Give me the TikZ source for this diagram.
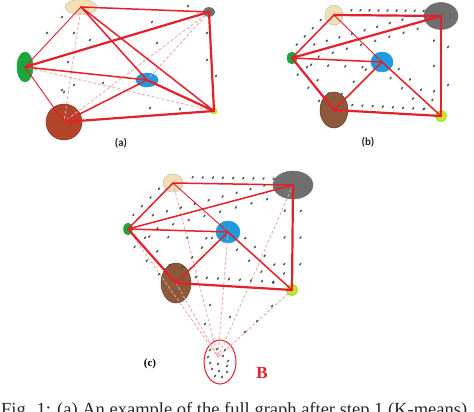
\documentclass[tikz,border=0pt]{standalone}
\usepackage{fontspec}
\setmainfont{Liberation Serif}
\newfontfamily\labfont{Carlito}
\usetikzlibrary{shapes.geometric,calc}
\definecolor{redl}{HTML}{E3202B}
\definecolor{pinkl}{HTML}{EFA3A3}
\definecolor{beigec}{HTML}{F4E0B2}
\definecolor{grayc}{HTML}{6F6F6F}
\definecolor{greenc}{HTML}{1EA43C}
\definecolor{bluec}{HTML}{1E9BDF}
\definecolor{browna}{HTML}{B3452B}
\definecolor{brownb}{HTML}{8C5A3A}
\definecolor{yellowc}{HTML}{D8DF2A}
\tikzset{
  vtx/.style={ellipse, inner sep=0pt, line width=0.5pt},
  thk/.style={draw=redl, line width=2.2pt, line cap=round},
  med/.style={draw=redl, line width=1.5pt, line cap=round},
  thn/.style={draw=redl, line width=0.9pt},
  pdash/.style={draw=pinkl, line width=0.8pt, dash pattern=on 3pt off 2pt},
  dmark/.style={draw=black!70, line width=1.4pt, line cap=round},
  lab/.style={font=\labfont\bfseries\fontsize{11}{13}\selectfont, text=black!85},
}
\newcommand\dm[2]{\draw[dmark] (#1-0.5,#2+0.7) -- (#1+0.5,#2-0.7);}
\newcommand\drow[4]{%
  \foreach \i in {1,...,#4}{%
    \pgfmathsetmacro\dt{0.12+0.76*(\i-0.5)/#4}
    \coordinate (dp) at ($(#1)!\dt!(#2)!#3:(#2)$);
    \draw[dmark] ($(dp)+(-0.5,0.7)$) -- ($(dp)+(0.5,-0.7)$);
  }}
\begin{document}
\begin{tikzpicture}[x=1pt,y=-1pt]
\useasboundingbox (0,0) rectangle (474,412);
\clip (0,0) rectangle (474,412);
\fill[white] (0,0) rectangle (474,412);

% ---------------- panel (a)
\node[vtx, fill=beigec, draw=black!25, minimum width=32pt, minimum height=15pt] (bA) at (81,7) {};
\node[vtx, fill=grayc, draw=grayc, minimum width=12pt, minimum height=9pt] (gyA) at (209,12) {};
\node[vtx, fill=greenc, draw=greenc, minimum width=16pt, minimum height=30pt] (grA) at (25,67) {};
\node[vtx, fill=bluec, draw=bluec, minimum width=22pt, minimum height=14pt] (blA) at (147,80) {};
\node[vtx, fill=browna, draw=browna!70!black, minimum width=36pt, minimum height=36pt] (brA) at (64,122) {};
\node[vtx, fill=yellowc, draw=yellowc!70!green, minimum width=6pt, minimum height=6pt] (yA) at (214,111) {};

\draw[pdash] (bA.center) -- (brA.center);
\draw[pdash] (gyA.center) -- (blA.center);
\draw[pdash] (gyA.center) -- (brA.center);
\draw[pdash] (grA.center) -- (yA.center);
\draw[med] (bA.center) -- (gyA.center);
\draw[thn] (bA.center) -- (grA.center);
\draw[med] (bA.center) -- (blA.center);
\draw[med] (bA.center) -- (yA.center);
\draw[thk] (grA.center) -- (gyA.center);
\draw[thk] (gyA.center) -- (yA.center);
\draw[med] (grA.center) -- (blA.center);
\draw[thn] (grA.center) -- (brA.center);
\draw[med] (blA.center) -- (brA.center);
\draw[thk] (blA.center) -- (yA.center);
\draw[thk] (brA.center) -- (yA.center);

\dm{62}{17}\dm{47}{33}\dm{74}{33}\dm{90}{40}\dm{68}{62}
\dm{188}{6}\dm{152}{22}\dm{207}{33}\dm{157}{43}\dm{207}{60}\dm{216}{76}
\dm{62}{90}\dm{64}{92}\dm{74}{85}\dm{103}{83}\dm{150}{108}\dm{180}{109}

\node[lab] (la) at (121,143) {(a)};

% ---------------- panel (b)
\node[vtx, fill=beigec, draw=black!25, minimum width=18pt, minimum height=20pt] (bB) at (334,15) {};
\node[vtx, fill=grayc, draw=grayc, minimum width=34pt, minimum height=27pt] (gyB) at (441,16) {};
\node[vtx, fill=greenc, draw=greenc, minimum width=10pt, minimum height=12pt] (grB) at (292,58) {};
\node[vtx, fill=bluec, draw=bluec, minimum width=22pt, minimum height=20pt] (blB) at (382,62) {};
\node[vtx, fill=brownb, draw=brownb!70!black, minimum width=28pt, minimum height=36pt] (brB) at (334,110) {};
\node[vtx, fill=yellowc, draw=yellowc!60!green, line width=1pt, minimum width=11pt, minimum height=11pt] (yB) at (441,116) {};

\draw[thk] (bB.center) -- (gyB.center);
\draw[med] (bB.center) -- (grB.center);
\draw[thn] (bB.center) -- (blB.center);
\draw[thk] (grB.center) -- (gyB.center);
\draw[thk] (gyB.center) -- (yB.center);
\draw[med] (grB.center) -- (blB.center);
\draw[thk] (grB.center) -- (brB.center);
\draw[med] (brB.center) -- (blB.center);
\draw[med] (blB.center) -- (yB.center);
\draw[thk] (brB.center) -- (yB.center);

\drow{bB}{gyB}{5pt!90}{9}
\drow{grB}{bB}{6pt!90}{4}
\drow{grB}{gyB}{7pt!90}{9}
\drow{grB}{gyB}{6pt!-90}{8}
\drow{grB}{blB}{6pt!-90}{4}
\drow{grB}{brB}{6pt!-90}{3}
\drow{grB}{brB}{6pt!90}{3}
\drow{brB}{blB}{6pt!90}{3}
\drow{brB}{yB}{6pt!90}{8}
\drow{blB}{yB}{6pt!90}{4}
\drow{blB}{yB}{6pt!-90}{4}
\drow{yB}{gyB}{7pt!90}{3}
\drow{yB}{gyB}{7pt!-90}{2}

\node[lab] (lb) at (368,142) {(b)};

% ---------------- panel (c)
\node[vtx, fill=beigec, draw=black!25, minimum width=20pt, minimum height=18pt] (bC) at (173,183) {};
\node[vtx, fill=grayc, draw=grayc, minimum width=40pt, minimum height=28pt] (gyC) at (293,185) {};
\node[vtx, fill=greenc, draw=greenc, minimum width=9pt, minimum height=12pt] (grC) at (128,229) {};
\node[vtx, fill=bluec, draw=bluec, minimum width=24pt, minimum height=22pt] (blC) at (228,232) {};
\node[vtx, fill=brownb, draw=brownb!70!black, minimum width=30pt, minimum height=40pt] (brC) at (176,283) {};
\node[vtx, fill=yellowc, draw=yellowc!60!green, line width=1pt, minimum width=11pt, minimum height=11pt] (yC) at (292,290) {};
\node[vtx, fill=white, draw=redl, line width=1pt, minimum width=32pt, minimum height=44pt] (BC) at (220,362) {};
\coordinate (Bp) at (218,357);

\draw[pdash] (bC.center) -- (Bp);
\draw[pdash] (grC.center) -- (Bp);
\draw[pdash] (brC.center) -- (Bp);
\draw[pdash] (blC.center) -- (Bp);
\draw[pdash] (gyC.center) -- (Bp);
\draw[pdash] (yC.center) -- (Bp);

\draw[med] (bC.center) -- (gyC.center);
\draw[med] (bC.center) -- (grC.center);
\draw[thn] (bC.center) -- (blC.center);
\draw[med] (grC.center) -- (gyC.center);
\draw[thk] (gyC.center) -- (yC.center);
\draw[med] (grC.center) -- (blC.center);
\draw[thk] (grC.center) -- (brC.center);
\draw[med] (brC.center) -- (blC.center);
\draw[med] (blC.center) -- (yC.center);
\draw[thk] (brC.center) -- (yC.center);

\drow{bC}{gyC}{6pt!90}{9}
\drow{grC}{bC}{6pt!90}{4}
\drow{grC}{gyC}{7pt!90}{9}
\drow{grC}{gyC}{7pt!-90}{8}
\drow{grC}{blC}{7pt!-90}{4}
\drow{grC}{brC}{7pt!-90}{3}
\drow{grC}{brC}{7pt!90}{3}
\drow{brC}{blC}{7pt!90}{4}
\drow{brC}{yC}{7pt!90}{8}
\drow{blC}{yC}{7pt!90}{5}
\drow{blC}{yC}{7pt!-90}{4}
\drow{yC}{gyC}{8pt!90}{3}
\drow{yC}{gyC}{8pt!-90}{3}

\dm{210}{305}\dm{230}{317}\dm{205}{324}\dm{245}{332}\dm{257}{321}\dm{272}{306}
\dm{210}{350}\dm{217}{349}\dm{225}{350}\dm{208}{357}\dm{223}{356}\dm{228}{361}
\dm{210}{363}\dm{218}{364}\dm{227}{366}\dm{212}{369}\dm{219}{371}\dm{227}{372}
\dm{215}{376}\dm{222}{377}

\node[font=\bfseries\fontsize{11}{13}\selectfont] (lc) at (150,364) {(c)};
\node[font=\bfseries\fontsize{17}{19}\selectfont, text=redl] (lB) at (262,373) {B};

% ---------------- caption (cut off at the bottom, as in the reference)
\node[anchor=base west, inner sep=0pt, font=\fontsize{18.5}{20}\selectfont, text=black!85] (cap) at (1,415) {Fig. 1: (a) An example of the full graph after step 1 (K-means)};
\end{tikzpicture}
\end{document}
